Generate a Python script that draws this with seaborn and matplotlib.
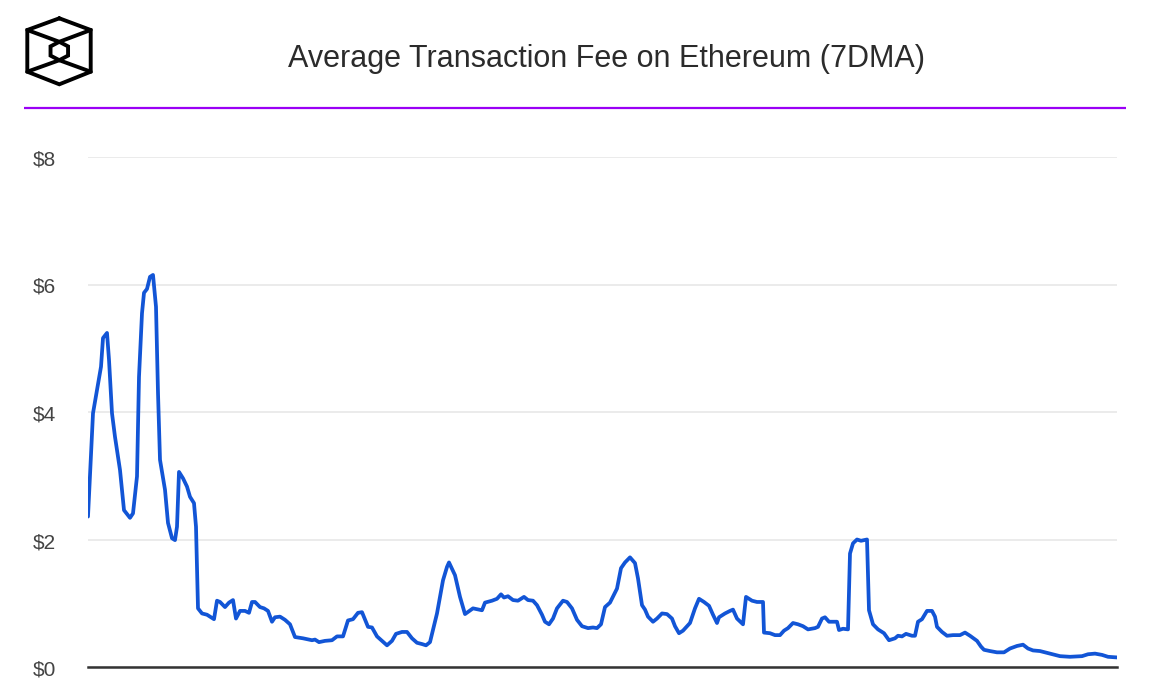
import numpy as np
import pandas as pd
import matplotlib
matplotlib.use("Agg")
import matplotlib.pyplot as plt
import matplotlib.transforms as mtransforms
import seaborn as sns
from matplotlib.ticker import FuncFormatter

# ---- data: day offset and average transaction fee (USD, 7-day moving average) ----
days = [0, 5, 9, 13, 15, 19, 21, 24, 27, 32,
        36, 42, 45, 49, 51, 54, 56, 59, 62, 65,
        68, 70, 72, 77, 80, 84, 87, 89, 91, 95,
        99, 102, 106, 108, 110,
        114, 119, 126, 129, 132, 137, 141, 145, 148, 152,
        157, 161, 164, 167, 172, 176, 180, 184, 187, 192,
        197, 202, 207, 215, 224, 227, 231, 237, 244, 249,
        255, 260, 265, 270, 274, 280, 284, 289, 294, 299,
        304, 308, 314, 319, 324, 329, 334, 338, 342, 349,
        355, 359, 361, 367, 372, 377, 385, 394, 397, 404,
        409, 413, 416, 420,
        425, 430, 436, 440, 445, 449, 454, 457, 461, 465,
        469, 475, 479, 484, 489, 494, 500, 505, 509, 513,
        517, 522, 529, 533, 537, 542, 547, 550, 554, 557,
        560, 565, 569, 574, 579, 584, 587, 591, 595, 602,
        607, 611, 616, 621, 625, 629, 631, 637, 642, 645,
        649, 655, 658, 664, 669, 675, 676, 682, 687, 692,
        696, 700, 705, 710, 715, 720, 727, 730, 734, 737,
        741, 749, 751, 755, 760,
        762, 765, 769, 773, 779, 781, 785, 790, 796, 801,
        807, 810, 814, 818, 824, 827, 830, 834, 839, 844,
        847, 849, 854, 859, 865, 872, 877, 882, 889, 893,
        896, 902, 909, 916, 922, 929, 935, 940, 945, 952,
        962, 972, 982, 994, 1000, 1007, 1014, 1020, 1029]
fee = [2.36, 3.98, 4.35, 4.71, 5.16, 5.24, 4.82, 3.98, 3.61, 3.09,
       2.46, 2.34, 2.41, 2.99, 4.55, 5.55, 5.87, 5.93, 6.12, 6.15,
       5.65, 4.30, 3.25, 2.78, 2.26, 2.02, 1.99, 2.20, 3.06, 2.96,
       2.83, 2.67, 2.57, 2.20, 0.92,
       0.84, 0.82, 0.75, 1.04, 1.02, 0.94, 1.01, 1.05, 0.76, 0.88,
       0.88, 0.85, 1.02, 1.02, 0.94, 0.92, 0.88, 0.71, 0.78, 0.79,
       0.74, 0.67, 0.47, 0.45, 0.42, 0.43, 0.39, 0.41, 0.42, 0.48,
       0.48, 0.73, 0.75, 0.85, 0.86, 0.63, 0.62, 0.48, 0.41, 0.34,
       0.41, 0.52, 0.55, 0.55, 0.45, 0.38, 0.36, 0.34, 0.39, 0.84,
       1.36, 1.57, 1.64, 1.44, 1.10, 0.83, 0.92, 0.89, 1.01, 1.04,
       1.07, 1.14, 1.09, 1.11,
       1.05, 1.04, 1.10, 1.05, 1.04, 0.97, 0.82, 0.71, 0.67, 0.76,
       0.92, 1.04, 1.02, 0.92, 0.74, 0.64, 0.61, 0.62, 0.61, 0.67,
       0.94, 1.01, 1.23, 1.55, 1.64, 1.72, 1.63, 1.39, 0.97, 0.90,
       0.79, 0.71, 0.76, 0.84, 0.83, 0.76, 0.64, 0.53, 0.57, 0.69,
       0.92, 1.07, 1.02, 0.96, 0.82, 0.69, 0.78, 0.84, 0.88, 0.90,
       0.76, 0.67, 1.10, 1.04, 1.02, 1.02, 0.54, 0.53, 0.50, 0.50,
       0.57, 0.61, 0.69, 0.67, 0.64, 0.59, 0.61, 0.63, 0.76, 0.78,
       0.71, 0.71, 0.58, 0.60, 0.59,
       1.78, 1.94, 2.00, 1.98, 2.00, 0.89, 0.67, 0.59, 0.53, 0.42,
       0.45, 0.49, 0.48, 0.52, 0.49, 0.49, 0.71, 0.75, 0.88, 0.88,
       0.79, 0.63, 0.55, 0.49, 0.50, 0.50, 0.54, 0.49, 0.41, 0.32,
       0.27, 0.25, 0.23, 0.23, 0.29, 0.33, 0.35, 0.29, 0.26, 0.25,
       0.21, 0.17, 0.16, 0.17, 0.20, 0.21, 0.19, 0.16, 0.15]
ytick_values = [0, 2, 4, 6, 8]
title = "Average Transaction Fee on Ethereum (7DMA)"

n = min(len(days), len(fee))
df = pd.DataFrame({"day": days[:n], "fee": fee[:n]})

sns.set_theme(style="white")
plt.rcParams["font.family"] = ["Liberation Sans", "DejaVu Sans"]

W, H = 1150, 686
fig = plt.figure(figsize=(W / 100, H / 100), dpi=100)

ax = fig.add_axes([88 / W, 1 - 667 / H, (1117 - 88) / W, (667 - 157) / H])
sns.lineplot(data=df, x="day", y="fee", ax=ax, color="#1255d6", linewidth=2.7,
             estimator=None, sort=False)
ax.set_xlim(0, 1029)
ax.set_ylim(0, 8)
ax.set_yticks(ytick_values)
ax.yaxis.set_major_formatter(FuncFormatter(lambda v, p: f"${v:.0f}"))
ax.set_xticks([])
ax.set_xlabel("")
ax.set_ylabel("")
ax.grid(axis="y", color="#e8e8e8", linewidth=1.2)
ax.set_axisbelow(True)
for s in ["top", "right", "left"]:
    ax.spines[s].set_visible(False)
ax.spines["bottom"].set_color("#333333")
ax.spines["bottom"].set_linewidth(1.8)
ax.tick_params(axis="y", length=0, pad=0, labelsize=15, labelcolor="#444444")
shift = mtransforms.ScaledTranslation(0, -3 / 100, fig.dpi_scale_trans)
for lab in ax.get_yticklabels():
    lab.set_horizontalalignment("left")
    lab.set_verticalalignment("center")
    lab.set_x(-55 / (1117 - 88))
    lab.set_transform(lab.get_transform() + shift)

# overlay for header decorations (pixel coordinates)
ov = fig.add_axes([0, 0, 1, 1], facecolor="none")
ov.set_xlim(0, W)
ov.set_ylim(H, 0)
ov.axis("off")
ov.plot([24, 1126], [107.5, 107.5], color="#9a00f5", linewidth=1.6, solid_capstyle="butt")
ov.text(606, 59, title, ha="center", va="center", fontsize=22, color="#2b2b2b")

# logo: hexagonal cube outline
cx, top, bot, lx, rx = 59.3, 18.3, 84.3, 27.3, 90.7
outer_x = [cx, rx, rx, cx, lx, lx, cx]
outer_y = [top, 30, 71.7, bot, 71.7, 30, top]
ov.plot(outer_x, outer_y, color="black", linewidth=2.8, solid_joinstyle="miter")
r = 9.2
cy = 51.0
ang = np.deg2rad(np.arange(90, 451, 60))
ix = cx + r * np.cos(ang) * 1.1
iy = cy - r * np.sin(ang)
ov.plot(ix, iy, color="black", linewidth=2.8, solid_joinstyle="miter")
ov.plot([lx, cx, rx], [30, cy - r, 30], color="black", linewidth=2.8)
ov.plot([lx, cx, rx], [71.7, cy + r, 71.7], color="black", linewidth=2.8)

fig.savefig("out.png", dpi=100)
